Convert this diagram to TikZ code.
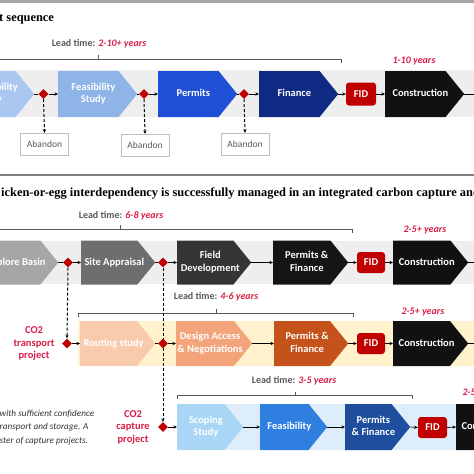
\documentclass[tikz,border=0pt]{standalone}
\usepackage{fontspec}
\setmainfont{Liberation Serif}
\setsansfont{Carlito}
\usetikzlibrary{shapes.symbols,shapes.geometric,arrows.meta}
\definecolor{bandgray}{HTML}{EEEEEE}
\definecolor{bandyel}{HTML}{FFF2CC}
\definecolor{bandblue}{HTML}{DDEEFA}
\definecolor{leadred}{HTML}{D81E48}
\definecolor{fidred}{HTML}{C00000}
\definecolor{leadgray}{HTML}{595959}
\definecolor{conblack}{HTML}{111111}
\definecolor{blueA}{HTML}{A9C7F0}
\definecolor{blueB}{HTML}{8EB4E8}
\definecolor{blueC}{HTML}{1F4FD6}
\definecolor{blueD}{HTML}{0F2A82}
\definecolor{grayA}{HTML}{A6A6A6}
\definecolor{grayB}{HTML}{6E6E6E}
\definecolor{grayC}{HTML}{353535}
\definecolor{grayD}{HTML}{151515}
\definecolor{orA}{HTML}{F8CBAD}
\definecolor{orB}{HTML}{F3A47A}
\definecolor{orC}{HTML}{C4521A}
\definecolor{skyA}{HTML}{A9D6F5}
\definecolor{skyB}{HTML}{2F7FE0}
\definecolor{skyC}{HTML}{1F4E9E}

\newcommand{\chevtxt}[1]{\hspace*{5pt}\begin{tabular}{@{}c@{}}#1\end{tabular}\hspace*{-5pt}}

\tikzset{
 chev/.style={shape=signal, signal to=east, signal pointer angle=102, minimum height=46pt,
   inner xsep=-10pt, inner ysep=0pt, anchor=west, text=white,
   font=\sffamily\bfseries\fontsize{10.5}{12.5}\selectfont},
 diam/.style={diamond, fill=fidred, minimum size=10pt, inner sep=0pt},
 fid/.style={rounded corners=3pt, fill=fidred, minimum width=30pt, minimum height=23pt,
   inner sep=0pt, text=white, font=\sffamily\bfseries\fontsize{10.5}{12.5}\selectfont},
 abandon/.style={draw=black!25, fill=white, minimum width=48pt, minimum height=22pt,
   inner sep=0pt, text=leadgray, font=\sffamily\fontsize{9.5}{11}\selectfont},
 flow/.style={-{Stealth[length=3.5pt,width=3.2pt]}, line width=0.7pt},
 link/.style={line width=0.7pt},
 drop/.style={flow, densely dashed, line width=1pt},
 bracket/.style={draw=leadgray, line width=0.9pt},
 lead/.style={text=leadgray, inner sep=0pt, font=\sffamily\bfseries\fontsize{10}{12}\selectfont},
 yrs/.style={text=leadred, inner sep=0pt, font=\sffamily\bfseries\itshape\fontsize{10}{12}\selectfont},
 co2/.style={text=leadred, align=center, inner sep=0pt, font=\sffamily\bfseries\fontsize{10.5}{12.5}\selectfont},
 title/.style={inner sep=0pt, anchor=base west, font=\bfseries\fontsize{12.4}{14}\selectfont},
 note/.style={inner sep=0pt, anchor=west, align=left, text=black!80,
   font=\sffamily\itshape\fontsize{9.2}{13.5}\selectfont}
}

\begin{document}
\begin{tikzpicture}[x=1pt, y=-1pt]
 \useasboundingbox (0,0) rectangle (474,474);
 \clip (0,0) rectangle (474,474);

 \fill[black!35] (0,0) rectangle (474,2.5);
 \node[title] (ttl1) at (-1,21) {t sequence};

 \draw[bracket] (-5,59) -- (341,59) -- (341,63);
 \draw[bracket] (98,59) -- (98,55);
 \node[lead] (lt1) at (99,44) {Lead time: \textcolor{leadred}{\itshape 2-10+ years}};
 \node[yrs] (yr1) at (414,61) {1-10 years};

 \fill[bandgray] (0,70) rectangle (474,117);
 \node[chev, fill=blueA, minimum width=81pt] (pre) at (-47,94) {\chevtxt{Prefeasibility\\Study}};
 \node[chev, fill=blueB, minimum width=79pt] (feas) at (58,94) {\chevtxt{Feasibility\\Study}};
 \node[chev, fill=blueC, minimum width=79pt] (perm) at (158,94) {\chevtxt{Permits}};
 \node[chev, fill=blueD, minimum width=79pt] (fin) at (259,94) {\chevtxt{Finance}};
 \node[fid] (fid1) at (361,94) {FID};
 \node[chev, fill=conblack, minimum width=79pt] (con1) at (385,94) {\chevtxt{Construction}};
 \node[diam] (d1) at (43.5,94) {};
 \node[diam] (d2) at (144,94) {};
 \node[diam] (d3) at (244,94) {};
 \coordinate (end1) at (474,94);
 \node[abandon] (ab1) at (44.5,144) {Abandon};
 \node[abandon] (ab2) at (145,145) {Abandon};
 \node[abandon] (ab3) at (245,144) {Abandon};

 \draw[link] (pre.east) -- (d1.west);
 \draw[flow] (d1.east) -- (feas.west);
 \draw[link] (feas.east) -- (d2.west);
 \draw[flow] (d2.east) -- (perm.west);
 \draw[link] (perm.east) -- (d3.west);
 \draw[flow] (d3.east) -- (fin.west);
 \draw[flow] (fin.east) -- (fid1.west);
 \draw[flow] (fid1.east) -- (con1.west);
 \draw[link] (con1.east) -- (end1);
 \draw[drop] (d1.south) -- (ab1.north);
 \draw[drop] (d2.south) -- (ab2.north);
 \draw[drop] (d3.south) -- (ab3.north);

 \draw[black!50, line width=1.2pt] (0,175) -- (474,175);
 \node[title] (ttl2) at (1,196) {icken-or-egg interdependency is successfully managed in an integrated carbon capture and};

 \draw[bracket] (-5,229) -- (352,229) -- (352,233);
 \draw[bracket] (120,229) -- (120,225);
 \node[lead] (lt2) at (121,216) {Lead time: \textcolor{leadred}{\itshape 6-8 years}};
 \node[yrs] (yr2) at (425,230) {2-5+ years};

 \fill[bandgray] (0,241) rectangle (474,284);
 \node[chev, fill=grayA, minimum width=76pt, minimum height=44pt] (basin) at (-18,262.5) {\chevtxt{Explore Basin}};
 \node[chev, fill=grayB, minimum width=74pt, minimum height=44pt] (site) at (81,262.5) {\chevtxt{Site Appraisal}};
 \node[chev, fill=grayC, minimum width=74pt, minimum height=44pt] (field) at (177,262.5) {\chevtxt{Field\\Development}};
 \node[chev, fill=grayD, minimum width=75pt, minimum height=44pt] (pf2) at (273,262.5) {\chevtxt{Permits \&\\Finance}};
 \node[fid, minimum width=28pt, minimum height=21pt] (fid2) at (371,262.5) {FID};
 \node[chev, fill=conblack, minimum width=75pt, minimum height=44pt] (con2) at (393,262.5) {\chevtxt{Construction}};
 \node[diam] (e1) at (68,262.5) {};
 \node[diam] (e2) at (163,262.5) {};
 \coordinate (end2) at (474,262.5);

 \draw[link] (basin.east) -- (e1.west);
 \draw[flow] (e1.east) -- (site.west);
 \draw[link] (site.east) -- (e2.west);
 \draw[flow] (e2.east) -- (field.west);
 \draw[flow] (field.east) -- (pf2.west);
 \draw[flow] (pf2.east) -- (fid2.west);
 \draw[flow] (fid2.east) -- (con2.west);
 \draw[link] (con2.east) -- (end2);

 \draw[bracket] (78,317) -- (78,313) -- (353,313) -- (353,317);
 \draw[bracket] (216,313) -- (216,309);
 \node[lead] (lt3) at (216,297) {Lead time: \textcolor{leadred}{\itshape 4-6 years}};
 \node[yrs] (yr3) at (423,312) {2-5+ years};

 \fill[bandyel] (78,321) rectangle (474,366);
 \node[co2] (tlab) at (34,343.5) {CO2\\transport\\project};
 \node[chev, fill=orA, minimum width=75pt, minimum height=45pt] (route) at (80,343.5) {\chevtxt{Routing study}};
 \node[chev, fill=orB, minimum width=76pt, minimum height=45pt] (design) at (176,343.5) {\chevtxt{Design Access\\\& Negotiations}};
 \node[chev, fill=orC, minimum width=74pt, minimum height=45pt] (pf3) at (274,343.5) {\chevtxt{Permits \&\\Finance}};
 \node[fid, minimum width=28pt, minimum height=21pt] (fid3) at (371,343.5) {FID};
 \node[chev, fill=conblack, minimum width=75pt, minimum height=45pt] (con3) at (393,343.5) {\chevtxt{Construction}};
 \node[diam] (t0) at (67,343.5) {};
 \coordinate (end3) at (474,343.5);

 \draw[bracket] (177,399) -- (177,395.5) -- (412,395.5) -- (412,399);
 \draw[bracket] (295,395.5) -- (295,392);
 \node[lead] (lt4) at (294,381) {Lead time: \textcolor{leadred}{\itshape 3-5 years}};
 \node[yrs] (yr4) at (484,393) {2-5+ years};

 \fill[bandblue] (177,404) rectangle (474,450);
 \node[co2] (clab) at (133,427) {CO2\\capture\\project};
 \node[note] (note) at (-0.5,427.5) {with sufficient confidence\\ransport and storage. A\\ster of capture projects.};
 \node[chev, fill=skyA, minimum width=66pt] (scope) at (177,427) {\chevtxt{Scoping\\Study}};
 \node[chev, fill=skyB, minimum width=67pt] (feas4) at (260,427) {\chevtxt{Feasibility}};
 \node[chev, fill=skyC, minimum width=65pt] (pf4) at (345,427) {\chevtxt{Permits\\\& Finance}};
 \node[fid, minimum width=29pt, minimum height=21pt] (fid4) at (432.5,427.5) {FID};
 \node[chev, fill=conblack, minimum width=75pt] (con4) at (456,427) {\chevtxt{Construction}};
 \node[diam] (c0) at (163,427) {};

 \draw[drop] (e1.south) -- (t0.north);
 \draw[drop] (e2.south) -- (c0.north);
 \node[diam] (t1) at (163,343.5) {};

 \draw[flow] (t0.east) -- (route.west);
 \draw[link] (route.east) -- (t1.west);
 \draw[flow] (t1.east) -- (design.west);
 \draw[flow] (design.east) -- (pf3.west);
 \draw[flow] (pf3.east) -- (fid3.west);
 \draw[flow] (fid3.east) -- (con3.west);
 \draw[link] (con3.east) -- (end3);

 \draw[flow] (c0.east) -- (scope.west);
 \draw[flow] (scope.east) -- (feas4.west);
 \draw[flow] (feas4.east) -- (pf4.west);
 \draw[flow] (pf4.east) -- (fid4.west);
 \draw[flow] (fid4.east) -- (con4.west);
\end{tikzpicture}
\end{document}
